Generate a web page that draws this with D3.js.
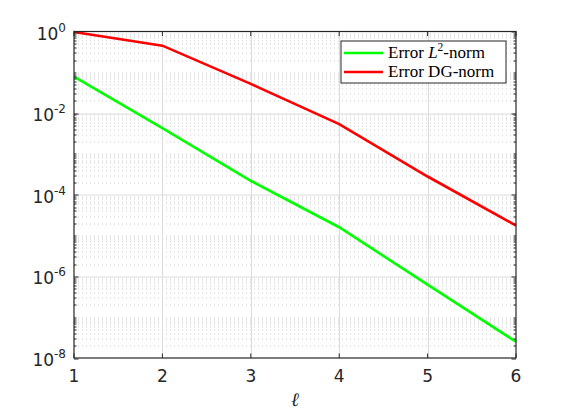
<!DOCTYPE html>
<script src="https://d3js.org/d3.v7.min.js"></script>
<style>
  body { margin: 0; background: #fff; }
  svg { font-family: 'DejaVu Sans', sans-serif; }
</style>
<body>
<svg width="570" height="413"></svg>
</body>
<script>
// levels and errors
var levels = [1, 2, 3, 4, 5, 6];
var errL2 = [0.078, 4.3e-3, 2.2e-4, 1.6e-5, 6.3e-7, 2.5e-8];
var errDG = [0.97, 0.45, 0.052, 5.4e-3, 2.8e-4, 1.76e-5];
var yTickExp = [0, -2, -4, -6, -8];

var svg = d3.select("svg"),
    margin = {top: 31.5, right: 54, bottom: 55, left: 74},
    width = +svg.attr("width") - margin.left - margin.right,
    height = +svg.attr("height") - margin.top - margin.bottom,
    g = svg.append("g").attr("transform", "translate(" + margin.left + "," + margin.top + ")");

var axisColor = "#262626";

var x = d3.scaleLinear().domain([1, 6]).range([0, width]);
var y = d3.scaleLog().domain([1e-8, 1]).range([height, 0]);

// minor grid (dotted), every 1..9 x 10^k
var minor = [];
for (var k = -8; k < 0; k++) {
  for (var m = 1; m < 10; m++) {
    if (m == 1 && k % 2 == 0) continue;
    minor.push(m * Math.pow(10, k));
  }
}
g.append("g").selectAll("line").data(minor).enter().append("line")
    .attr("x1", 0).attr("x2", width)
    .attr("y1", function(d) { return Math.round(y(d)) + 0.5; })
    .attr("y2", function(d) { return Math.round(y(d)) + 0.5; })
    .attr("stroke", "#cdcdcd")
    .attr("stroke-dasharray", "1,3");

// major grid
var majors = yTickExp.map(function(e) { return Math.pow(10, e); });
g.append("g").selectAll("line").data(majors.slice(1, -1)).enter().append("line")
    .attr("x1", 0).attr("x2", width)
    .attr("y1", function(d) { return Math.round(y(d)) + 0.5; })
    .attr("y2", function(d) { return Math.round(y(d)) + 0.5; })
    .attr("stroke", "#dcdcdc");
g.append("g").selectAll("line").data(levels.slice(1, -1)).enter().append("line")
    .attr("y1", 0).attr("y2", height)
    .attr("x1", function(d) { return Math.round(x(d)) + 0.5; })
    .attr("x2", function(d) { return Math.round(x(d)) + 0.5; })
    .attr("stroke", "#dcdcdc");

// lines
var line = d3.line()
    .x(function(d, i) { return x(levels[i]); })
    .y(function(d) { return y(d); });

g.append("path").datum(errL2)
    .attr("fill", "none").attr("stroke", "#00ff00").attr("stroke-width", 2.6)
    .attr("d", line);
g.append("path").datum(errDG)
    .attr("fill", "none").attr("stroke", "#ff0000").attr("stroke-width", 2.6)
    .attr("d", line);

// box
g.append("rect")
    .attr("x", 0).attr("y", 0).attr("width", width).attr("height", height)
    .attr("fill", "none").attr("stroke", axisColor).attr("stroke-width", 1.2);

// ticks (inside)
var tk = g.append("g").attr("stroke", axisColor);
levels.forEach(function(d) {
  tk.append("line").attr("x1", x(d)).attr("x2", x(d)).attr("y1", height).attr("y2", height - 4.5);
  tk.append("line").attr("x1", x(d)).attr("x2", x(d)).attr("y1", 0).attr("y2", 4.5);
});
minor.concat(majors).forEach(function(d) {
  var len = majors.indexOf(d) >= 0 ? 4.5 : 2.5;
  var yy = Math.round(y(d)) + 0.5;
  tk.append("line").attr("x1", 0).attr("x2", len).attr("y1", yy).attr("y2", yy);
  tk.append("line").attr("x1", width).attr("x2", width - len).attr("y1", yy).attr("y2", yy);
});

// x tick labels
g.append("g").selectAll("text").data(levels).enter().append("text")
    .attr("x", function(d) { return x(d); })
    .attr("y", height + 24)
    .attr("text-anchor", "middle")
    .attr("font-size", 17)
    .attr("fill", axisColor)
    .text(function(d) { return d; });

// y tick labels 10^k
var yl = g.append("g").selectAll("text").data(yTickExp).enter().append("text")
    .attr("x", -8)
    .attr("y", function(d) { return y(Math.pow(10, d)) + 8; })
    .attr("text-anchor", "end")
    .attr("font-size", 17)
    .attr("fill", axisColor);
yl.append("tspan").text("10");
yl.append("tspan").attr("font-size", 12).attr("dy", -8).text(function(d) { return d; });

// x label
g.append("text")
    .attr("x", width / 2)
    .attr("y", height + 48)
    .attr("text-anchor", "middle")
    .attr("font-family", "'DejaVu Serif', serif")
    .attr("font-style", "italic")
    .attr("font-size", 19)
    .attr("fill", axisColor)
    .text("ℓ");

// legend
var lg = svg.append("g").attr("transform", "translate(341,41)");
lg.append("rect").attr("width", 165).attr("height", 42)
    .attr("fill", "#fff").attr("stroke", axisColor).attr("stroke-width", 1);
var legendItems = [
  {color: "#00ff00", parts: [["Error ", "normal"], ["L", "italic"], ["2", "sup"], ["-norm", "normal"]]},
  {color: "#ff0000", parts: [["Error DG-norm", "normal"]]}
];
legendItems.forEach(function(it, i) {
  var yy = 12 + i * 19;
  lg.append("line").attr("x1", 3).attr("x2", 42).attr("y1", yy).attr("y2", yy)
      .attr("stroke", it.color).attr("stroke-width", 2.6);
  var t = lg.append("text").attr("x", 47).attr("y", yy + 5)
      .attr("font-family", "'Liberation Serif', serif").attr("font-size", 17).attr("fill", "#000");
  it.parts.forEach(function(p) {
    var s = t.append("tspan").text(p[0]);
    if (p[1] == "italic") s.attr("font-style", "italic");
    if (p[1] == "sup") { s.attr("font-size", 11.5).attr("dy", -7); }
    if (p[1] == "normal" && p[0] == "-norm") s.attr("dy", 7);
  });
});
</script>
